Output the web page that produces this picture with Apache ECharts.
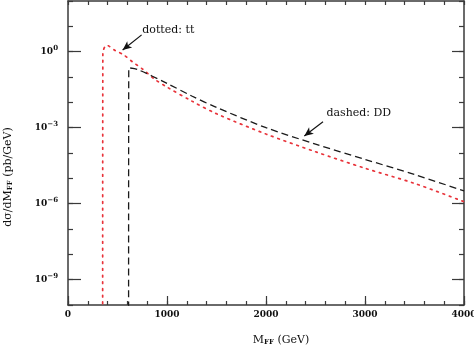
<!DOCTYPE html>
<html>
<head>
<meta charset="utf-8">
<script src="https://cdn.jsdelivr.net/npm/echarts@6/dist/echarts.min.js"></script>
<style>html,body{margin:0;padding:0;background:#fff}#c{width:474px;height:349px}</style>
</head>
<body>
<div id="c"></div>
<script>
// tt (dotted, red)
var ttMass  = [350, 352, 390, 475, 560, 650, 750, 880, 1000, 1250, 1500, 2000, 2500, 3000, 3500, 4000];
var ttValue = [1e-11, 0.87, 1.8, 1.12, 0.76, 0.40, 0.21, 0.079, 0.040, 0.0112, 0.00355, 0.00056, 0.000112, 2.5e-5, 6.3e-6, 1.2e-6];
// DD (dashed, black)
var ddMass  = [612, 614, 700, 1000, 1250, 1500, 2000, 2500, 3000, 3500, 4000];
var ddValue = [1e-11, 0.23, 0.20, 0.056, 0.0178, 0.0063, 0.001, 0.000224, 5.6e-5, 1.41e-5, 3.2e-6];
// axes
var xMajorTicks = [0, 1000, 2000, 3000, 4000];
var yMajorTicks = [1e-9, 1e-6, 1e-3, 1];
var yMinorTicks = [1e-10, 1e-9, 1e-8, 1e-7, 1e-6, 1e-5, 1e-4, 1e-3, 1e-2, 1e-1, 1, 10, 100];
// annotations
var ttArrowFrom = [744, 4.6], ttArrowTo = [552, 1.17];
var ddArrowFrom = [2576, 0.0017], ddArrowTo = [2387, 0.00047];
var ttText = 'dotted: tt', ttTextAt = [750, 7.2];
var ddText = 'dashed: DD', ddTextAt = [2610, 0.0038];

function pairs(xs, ys) { return xs.map(function (x, i) { return [x, ys[i]]; }); }

var axisCol = '#3a3a3a';
var font = 'DejaVu Serif';

function xAx(pos, interval, len, showLine, showLabel) {
  return {
    type: 'value', position: pos, min: 0, max: 4000, interval: interval,
    axisLine: { show: showLine, onZero: false, lineStyle: { color: axisCol, width: 1.5 } },
    axisTick: { show: true, inside: true, length: len, lineStyle: { color: axisCol, width: 1.2 } },
    axisLabel: { show: showLabel, margin: 5, color: '#111', fontFamily: font, fontWeight: 'bold', fontSize: 9,
      customValues: xMajorTicks, formatter: function (v) { return String(v); } },
    splitLine: { show: false }
  };
}
function yAx(pos, ticks, len, showLine, showLabel) {
  return {
    type: 'log', logBase: 10, position: pos, min: 1e-10, max: 1e2,
    axisLine: { show: showLine, onZero: false, lineStyle: { color: axisCol, width: 1.5 } },
    axisTick: { show: true, inside: true, length: len, customValues: ticks, lineStyle: { color: axisCol, width: 1.2 } },
    axisLabel: { show: showLabel, customValues: yMajorTicks, margin: 10,
      formatter: function (v) {
        var p = Math.round(Math.log10(v));
        var e = (p < 0 ? '\u2212' : '') + Math.abs(p);
        return '{b|10}{s|' + e + '}';
      },
      rich: {
        b: { fontFamily: font, fontSize: 9, fontWeight: 'bold', color: '#111' },
        s: { fontFamily: font, fontSize: 7, fontWeight: 'bold', color: '#111', padding: [0, 0, 6, 0] }
      }
    },
    splitLine: { show: false }
  };
}

var xA0 = xAx('bottom', 1000, 9, true, true);
xA0.name = 'M{sub|FF} (GeV)';
xA0.nameLocation = 'middle';
xA0.nameGap = 29;
xA0.nameTextStyle = { fontFamily: font, fontSize: 11, color: '#111', padding: [0, 0, 0, 30],
  rich: { sub: { fontFamily: font, fontSize: 7, fontWeight: 'bold', color: '#111', padding: [5, 0, 0, 0] } } };

var yA0 = yAx('left', yMajorTicks, 13, true, true);
yA0.name = 'd\u03c3/dM{sub|FF} (pb/GeV)';
yA0.nameLocation = 'middle';
yA0.nameRotate = 90;
yA0.nameGap = 54;
yA0.nameTextStyle = { fontFamily: font, fontSize: 11, color: '#111', padding: [0, 48, 0, 0],
  rich: { sub: { fontFamily: font, fontSize: 7, fontWeight: 'bold', color: '#111', padding: [5, 0, 0, 0] } } };

var chart = echarts.init(document.getElementById('c'), null, { renderer: 'canvas' });
chart.setOption({
  animation: false,
  backgroundColor: '#fff',
  grid: { left: 68, right: 10, top: 1, bottom: 44, containLabel: false, outerBoundsMode: 'none' },
  xAxis: [
    xA0,
    xAx('bottom', 200, 4, false, false),
    xAx('top', 200, 4, true, false)
  ],
  yAxis: [
    yA0,
    yAx('left', yMinorTicks, 5, false, false),
    yAx('right', yMajorTicks, 12, true, false),
    yAx('right', yMinorTicks, 5, false, false)
  ],
  series: [
    {
      type: 'line', xAxisIndex: 0, yAxisIndex: 0, data: pairs(ttMass, ttValue),
      symbol: 'none', smooth: 0.3, clip: true,
      lineStyle: { color: '#e8333a', width: 1.7, type: [1.7, 5], cap: 'round' },
      markLine: {
        silent: true, symbol: ['none', 'arrow'], symbolSize: [6, 9],
        lineStyle: { color: '#111', width: 1.2, type: 'solid' }, label: { show: false },
        data: [[{ coord: ttArrowFrom }, { coord: ttArrowTo }]]
      },
      markPoint: {
        silent: true, symbol: 'circle', symbolSize: 0,
        label: { show: true, position: 'right', distance: 0, formatter: ttText, fontFamily: font, fontSize: 11, color: '#111' },
        data: [{ coord: ttTextAt }]
      }
    },
    {
      type: 'line', xAxisIndex: 0, yAxisIndex: 0, data: pairs(ddMass, ddValue),
      symbol: 'none', smooth: 0.3, clip: true,
      lineStyle: { color: '#1a1a1a', width: 1.3, type: [7, 4] },
      markLine: {
        silent: true, symbol: ['none', 'arrow'], symbolSize: [6, 9],
        lineStyle: { color: '#111', width: 1.2, type: 'solid' }, label: { show: false },
        data: [[{ coord: ddArrowFrom }, { coord: ddArrowTo }]]
      },
      markPoint: {
        silent: true, symbol: 'circle', symbolSize: 0,
        label: { show: true, position: 'right', distance: 0, formatter: ddText, fontFamily: font, fontSize: 11, color: '#111' },
        data: [{ coord: ddTextAt }]
      }
    }
  ]
});
</script>
</body>
</html>
